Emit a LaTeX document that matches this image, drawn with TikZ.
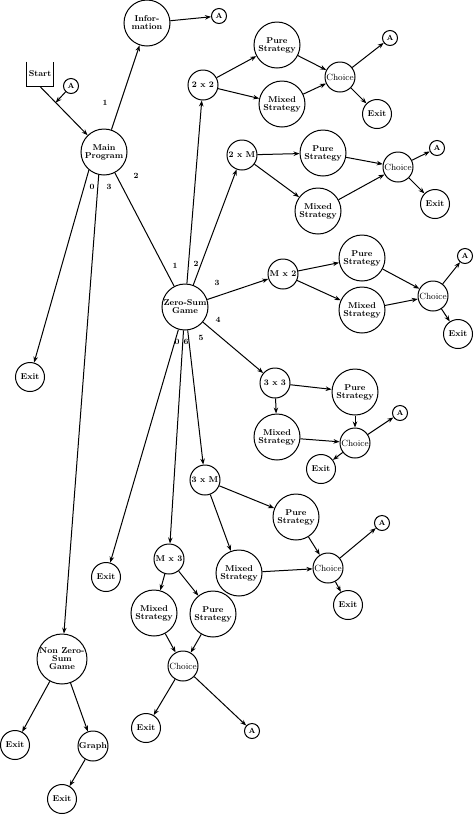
\documentclass[tikz,border=0pt]{standalone}
\usepackage{tikz}
\usetikzlibrary{shapes, positioning, arrows.meta}

\begin{document}
\begin{tikzpicture}[x=1pt, y=-1pt, line width=1pt, >={Stealth[length=6pt, width=4.5pt]}]
\tikzstyle{big_node}=[circle, draw, minimum size=46pt, inner sep=0pt, align=center, font=\fontsize{8.5}{8}\selectfont\bfseries]
\tikzstyle{game_node}=[circle, draw, minimum size=30pt, inner sep=0pt, font=\fontsize{8.5}{8}\selectfont\bfseries]
\tikzstyle{choice_node}=[circle, draw, minimum size=30pt, inner sep=0pt, font=\fontsize{9}{9}\selectfont]
\tikzstyle{exit_node}=[circle, draw, minimum size=29pt, inner sep=0pt, font=\fontsize{8.5}{8}\selectfont\bfseries]
\tikzstyle{back_node}=[circle, draw, minimum size=15pt, inner sep=0pt, font=\fontsize{7.5}{7}\selectfont\bfseries]
\tikzstyle{num_label}=[inner sep=0pt, font=\fontsize{8}{8}\selectfont\bfseries]

\useasboundingbox (0,0) rectangle (474,815);

%main program
\node [minimum width=26pt, minimum height=24pt, inner sep=0pt, font=\fontsize{8.5}{8}\selectfont\bfseries] at (40,74) (start) {\raisebox{-3pt}{Start}};
\draw (start.north west) -- (start.south west) -- (start.south east) -- (start.north east);
\node [back_node] at (71,86) (a0) {A};
\node [big_node] at (104,152) (main) {Main\\Program};
\node [big_node] at (147,23) (info) {Infor-\\mation};
\node [back_node] at (219,16) (a1) {A};
\node [exit_node] at (30,377) (exit0) {Exit};
\node [big_node] at (62,659) (nonzero) {Non Zero-\\Sum\\Game};
\node [exit_node] at (15,745) (exit_nz) {Exit};
\node [game_node] at (93,746) (graph) {Graph};
\node [exit_node] at (62,799) (exit_gr) {Exit};
\node [big_node] at (185,307) (zerosum) {Zero-Sum\\Game};
\node [exit_node] at (106,577) (exit_zs) {Exit};

%2 x 2
\node [game_node] at (203,85) (g22) {2 x 2};
\node [big_node] at (277,45) (pure22) {Pure\\Strategy};
\node [big_node] at (282,104) (mixed22) {Mixed\\Strategy};
\node [choice_node] at (340,77) (choice22) {Choice};
\node [back_node] at (390,38) (a22) {A};
\node [exit_node] at (377,114) (exit22) {Exit};

%2 x M
\node [game_node] at (242,155) (g2m) {2 x M};
\node [big_node] at (323,153) (pure2m) {Pure\\Strategy};
\node [big_node] at (318,211) (mixed2m) {Mixed\\Strategy};
\node [choice_node] at (398,167) (choice2m) {Choice};
\node [back_node] at (437,148) (a2m) {A};
\node [exit_node] at (435,204) (exit2m) {Exit};

%M x 2
\node [game_node] at (283,274) (gm2) {M x 2};
\node [big_node] at (362,258) (purem2) {Pure\\Strategy};
\node [big_node] at (362,310) (mixedm2) {Mixed\\Strategy};
\node [choice_node] at (433,296) (choicem2) {Choice};
\node [back_node] at (465,256) (am2) {A};
\node [exit_node] at (458,334) (exitm2) {Exit};

%3 x 3
\node [game_node] at (275,383) (g33) {3 x 3};
\node [big_node] at (355,392) (pure33) {Pure\\Strategy};
\node [big_node] at (277,437) (mixed33) {Mixed\\Strategy};
\node [choice_node] at (355,443) (choice33) {Choice};
\node [back_node] at (400,413) (a33) {A};
\node [exit_node] at (321,469) (exit33) {Exit};

%3 x M
\node [game_node] at (205,480) (g3m) {3 x M};
\node [big_node] at (296,517) (pure3m) {Pure\\Strategy};
\node [big_node] at (239,573) (mixed3m) {Mixed\\Strategy};
\node [choice_node] at (328,568) (choice3m) {Choice};
\node [back_node] at (382,523) (a3m) {A};
\node [exit_node] at (348,605) (exit3m) {Exit};

%M x 3
\node [game_node] at (169,559) (gm3) {M x 3};
\node [big_node] at (154,613) (mixedm3) {Mixed\\Strategy};
\node [big_node] at (213,614) (purem3) {Pure\\Strategy};
\node [choice_node] at (183,666) (choicem3) {Choice};
\node [exit_node] at (146,728) (exitm3) {Exit};
\node [back_node] at (252,731) (am3) {A};

\draw [->] (start.south) -- coordinate[pos=0.33] (join) (main);
\path [->] (a0) edge (join);
\path [->] (main) edge (info);
\path [->] (info) edge (a1);
\path [->] (main.-130) edge (exit0);
\path [->] (main.-103) edge (nonzero);
\path (main) edge (zerosum);
\path [->] (nonzero) edge (exit_nz);
\path [->] (nonzero) edge (graph);
\path [->] (graph) edge (exit_gr);

\path [->] (zerosum) edge (g22);
\path [->] (zerosum) edge (g2m);
\path [->] (zerosum) edge (gm2);
\path [->] (zerosum) edge (g33);
\path [->] (zerosum) edge (g3m);
\path [->] (zerosum) edge (gm3);
\path [->] (zerosum) edge (exit_zs);

\path [->] (g22) edge (pure22);
\path [->] (g22) edge (mixed22);
\path [->] (pure22) edge (choice22);
\path [->] (mixed22) edge (choice22);
\path [->] (choice22) edge (a22);
\path [->] (choice22) edge (exit22);

\path [->] (g2m) edge (pure2m);
\path [->] (g2m) edge (mixed2m);
\path [->] (pure2m) edge (choice2m);
\path [->] (mixed2m) edge (choice2m);
\path [->] (choice2m) edge (a2m);
\path [->] (choice2m) edge (exit2m);

\path [->] (gm2) edge (purem2);
\path [->] (gm2) edge (mixedm2);
\path [->] (purem2) edge (choicem2);
\path [->] (mixedm2) edge (choicem2);
\path [->] (choicem2) edge (am2);
\path [->] (choicem2) edge (exitm2);

\path [->] (g33) edge (pure33);
\path [->] (g33) edge (mixed33);
\path [->] (pure33) edge (choice33);
\path [->] (mixed33) edge (choice33);
\path [->] (choice33) edge (a33);
\path [->] (choice33) edge (exit33);

\path [->] (g3m) edge (pure3m);
\path [->] (g3m) edge (mixed3m);
\path [->] (pure3m) edge (choice3m);
\path [->] (mixed3m) edge (choice3m);
\path [->] (choice3m) edge (a3m);
\path [->] (choice3m) edge (exit3m);

\path [->] (gm3) edge (mixedm3);
\path [->] (gm3) edge (purem3);
\path [->] (mixedm3) edge (choicem3);
\path [->] (purem3) edge (choicem3);
\path [->] (choicem3) edge (exitm3);
\path [->] (choicem3) edge (am3);

%option numbers
\node [num_label] at (105,103) (n_info) {1};
\node [num_label] at (136,176) (n_zs) {2};
\node [num_label] at (92,187) (n_exit) {0};
\node [num_label] at (109,187) (n_nz) {3};
\node [num_label] at (175,266) (n_22) {1};
\node [num_label] at (196,264) (n_2m) {2};
\node [num_label] at (217,283) (n_m2) {3};
\node [num_label] at (218,320) (n_33) {4};
\node [num_label] at (201,338) (n_3m) {5};
\node [num_label] at (177,342) (n_ex) {0};
\node [num_label] at (186,342) (n_m3) {6};

\end{tikzpicture}
\end{document}
